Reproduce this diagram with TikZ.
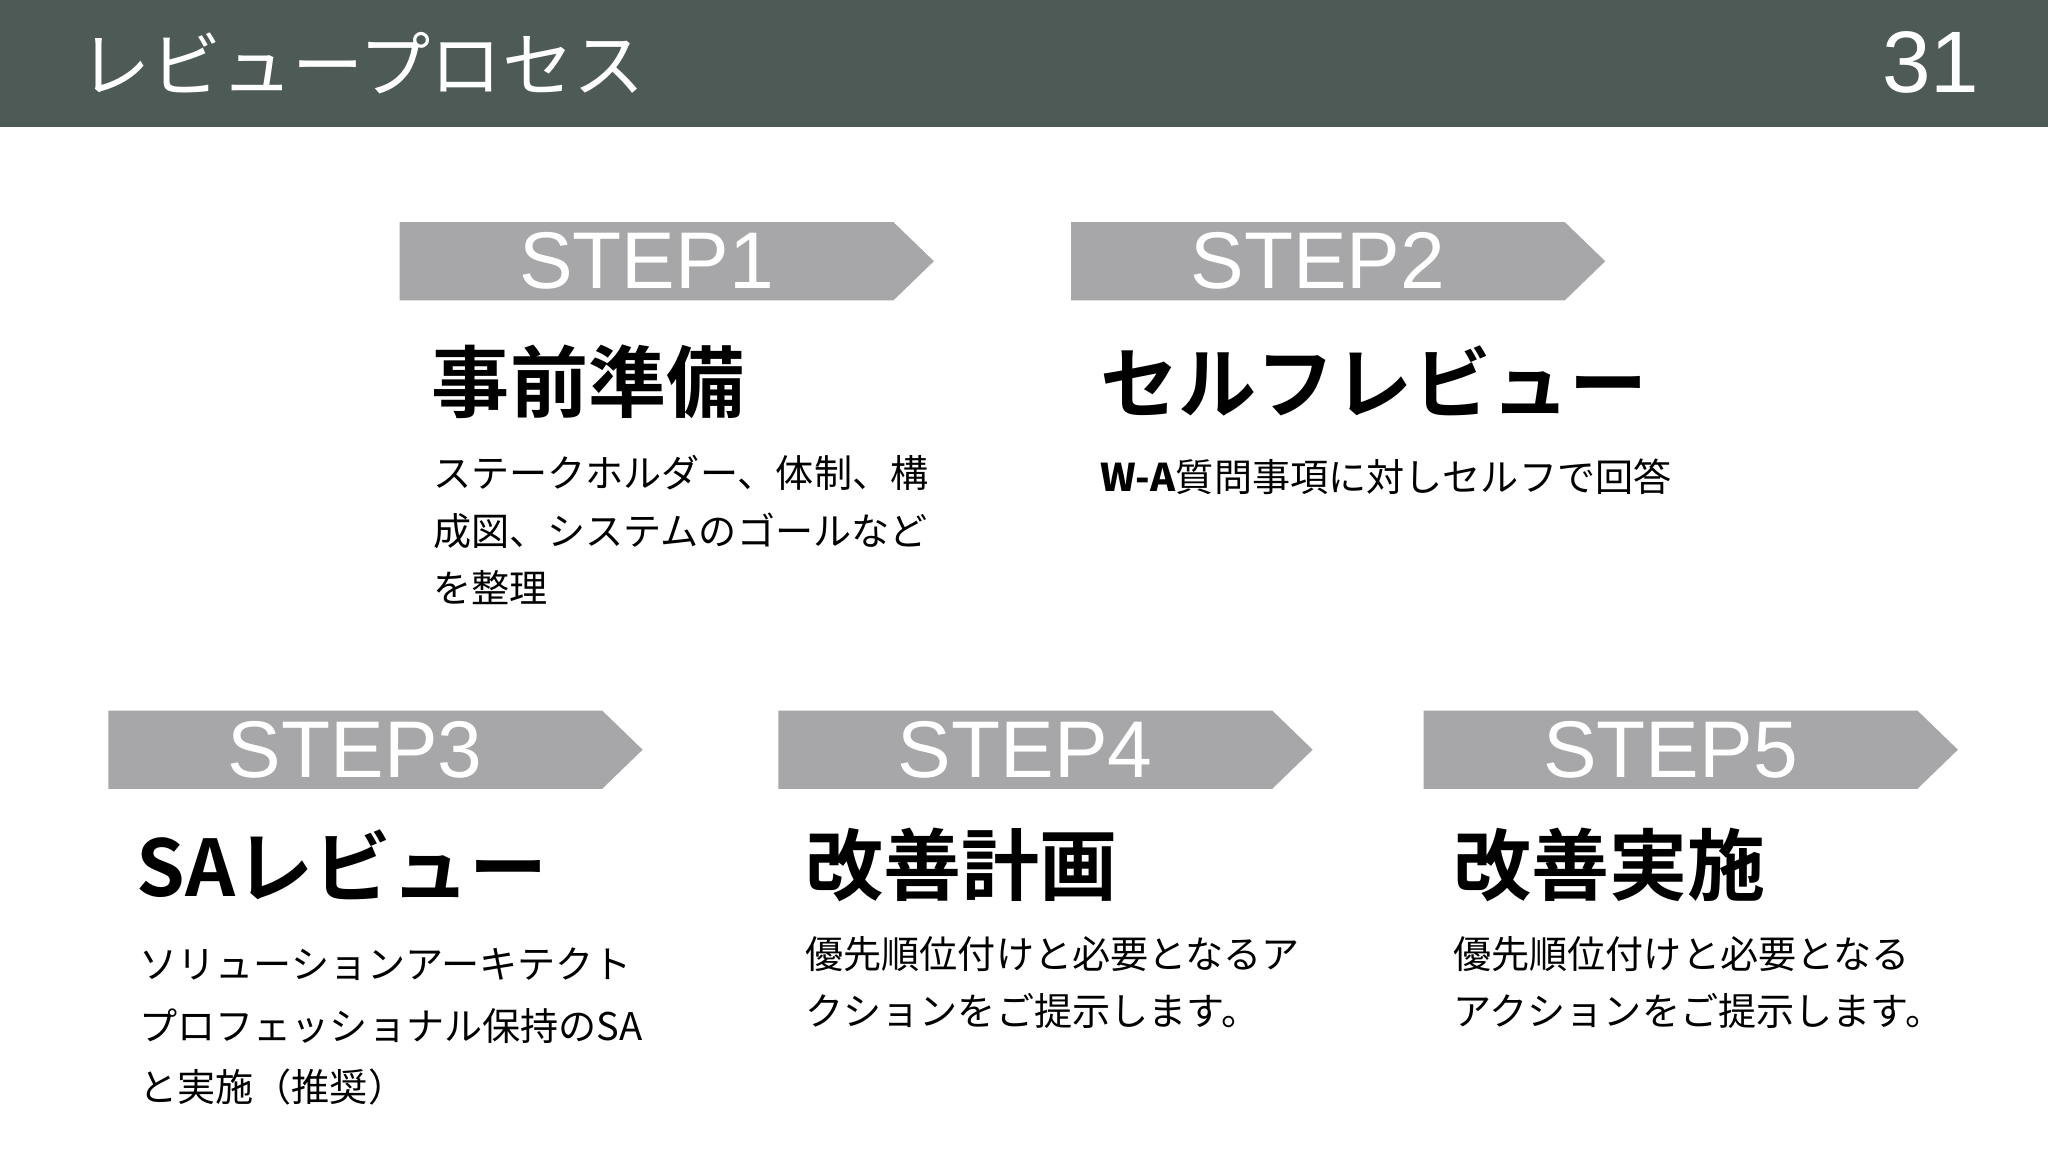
\documentclass[tikz,border=0pt]{standalone}
\usepackage{fontspec}
\setmainfont{Liberation Sans}
\newfontfamily\jp{Noto Sans CJK JP}
\newfontfamily\jpb{Noto Sans CJK JP Bold}
\definecolor{hdr}{HTML}{4D5A55}
\definecolor{arr}{HTML}{A7A6A8}
\newcommand\StepArrow[4]{%
  \fill[arr] (#2,#3) -- ++(378,0) -- ++(31,-30) -- ++(-31,-30) -- ++(-378,0) -- cycle;
  \node[steptxt] (#1) at ($(#2,#3)+(189,-30)$) {#4};}
\usetikzlibrary{calc}
\begin{document}
\begin{tikzpicture}[x=0.01cm,y=0.01cm,
  steptxt/.style={text=white,font=\fontsize{17.5}{18}\selectfont,inner sep=0},
  head/.style={anchor=west,inner sep=0,font=\jpb\fontsize{17}{20}\selectfont},
  body/.style={anchor=north west,inner sep=0,align=left,font=\jp\fontsize{8.3}{12.5}\selectfont}]
\useasboundingbox (0,0) rectangle (1568,-882);
\fill[white] (0,0) rectangle (1568,-882);
\fill[hdr] (0,0) rectangle (1568,-97);
\node[anchor=west,text=white,inner sep=0,font=\jp\fontsize{15.5}{18}\selectfont] (title) at (60,-48) {レビュープロセス};
\node[anchor=east,text=white,inner sep=0,font=\fontsize{19}{20}\selectfont] (num) at (1516,-48) {31};
\StepArrow{s1}{306}{-170}{STEP1}
\StepArrow{s2}{820}{-170}{STEP2}
\StepArrow{s3}{83}{-544}{STEP3}
\StepArrow{s4}{596}{-544}{STEP4}
\StepArrow{s5}{1090}{-544}{STEP5}
\node[head] (h1) at (330,-292) {事前準備};
\node[head] (h2) at (842,-292) {セルフレビュー};
\node[head] (h3) at (104,-662) {SAレビュー};
\node[head] (h4) at (616,-662) {改善計画};
\node[head] (h5) at (1112,-662) {改善実施};
\node[body] (b1) at (331,-348) {ステークホルダー、体制、構\\成図、システムのゴールなど\\を整理};
\node[body] (b2) at (842,-351) {\textbf{W-A}質問事項に対しセルフで回答};
\node[body,font=\jp\fontsize{8.3}{13.4}\selectfont] (b3) at (106,-725) {ソリューションアーキテクト\\プロフェッショナル保持のSA\\と実施（推奨）};
\node[body] (b4) at (616,-716) {優先順位付けと必要となるア\\クションをご提示します。};
\node[body] (b5) at (1112,-716) {優先順位付けと必要となる\\アクションをご提示します。};
\end{tikzpicture}
\end{document}
